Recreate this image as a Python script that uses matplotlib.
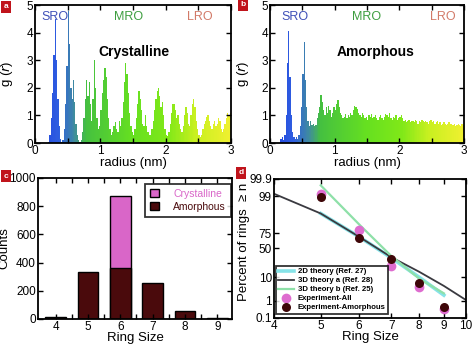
import numpy as np
import matplotlib
matplotlib.use("Agg")
import matplotlib.pyplot as plt
from matplotlib.colors import LinearSegmentedColormap
from matplotlib.ticker import NullLocator
from statistics import NormalDist

plt.rcParams["font.family"] = ["Liberation Sans", "DejaVu Sans"]

# g(r) histograms, 0.02 nm bins from 0 to 3 nm
bin_width = 0.02
g_crystalline = [
    0, 0, 0, 0, 0, 0, 0, 0, 0, 0,
    0.05, 0.3, 0.9, 1.8, 3.2, 4.5, 3.0, 1.6, 0.6, 0.15,
    0.02, 0.1, 0.5, 1.4, 2.8, 4.8, 3.6, 2.0, 1.6, 2.3,
    1.5, 0.7, 0.3, 0.1, 0.05, 0.1, 0.4, 0.9, 1.6, 2.3,
    1.7, 2.2, 1.4, 0.8, 1.6, 3.0, 2.0, 0.9, 0.5, 0.6,
    1.2, 1.8, 2.3, 2.7, 2.4, 1.6, 0.9, 0.5, 0.3, 0.4,
    0.6, 0.75, 0.5, 0.4, 0.8, 0.6, 0.9, 1.5, 2.2, 2.9,
    2.5, 1.8, 1.1, 0.6, 0.4, 0.3, 0.5, 0.9, 1.4, 1.9,
    1.6, 1.2, 0.7, 0.6, 1.0, 0.6, 0.4, 0.3, 0.3, 0.5,
    0.8, 1.2, 1.6, 1.9, 2.0, 1.7, 1.3, 1.5, 1.0, 0.5,
    0.3, 0.25, 0.4, 0.7, 1.1, 1.4, 1.4, 1.2, 0.9, 1.0,
    0.7, 0.5, 0.4, 0.6, 1.0, 1.3, 1.1, 0.7, 0.6, 1.0,
    1.4, 1.6, 1.3, 0.8, 0.5, 0.3, 0.2, 0.3, 0.5, 0.7,
    0.8, 0.95, 1.0, 0.8, 0.6, 0.5, 0.7, 0.8, 0.6, 0.7,
    0.9, 0.8, 0.5, 0.4, 0.5, 0.7, 0.9, 1.1, 1.0, 1.1,
]
g_amorphous = [
    0, 0, 0, 0, 0, 0, 0, 0, 0.15, 0.2,
    0.1, 0.3, 1.0, 2.9, 4.05, 2.4, 1.0, 0.4, 0.2, 0.15,
    0.2, 0.15, 0.3, 0.6, 1.3, 2.5, 3.65, 2.3, 1.3, 0.8,
    0.6, 0.8, 0.65, 0.7, 0.6, 0.65, 0.9, 1.1, 1.3, 1.75,
    1.5, 1.2, 1.0, 1.3, 1.1, 1.35, 1.2, 0.95, 1.1, 1.3,
    1.2, 1.4, 1.55, 1.3, 1.1, 1.0, 0.9, 0.95, 1.05, 0.9,
    1.0, 0.95, 1.1, 1.0, 1.2, 1.35, 1.3, 1.25, 1.1, 1.0,
    0.95, 1.1, 1.0, 0.9, 0.95, 0.85, 1.0, 0.95, 1.05, 0.9,
    0.95, 1.0, 0.9, 0.85, 0.95, 1.0, 0.9, 0.85, 0.95, 1.05,
    1.0, 0.95, 1.1, 0.9, 0.85, 0.95, 0.9, 1.0, 0.85, 0.9,
    0.95, 1.0, 0.9, 0.8, 0.85, 0.75, 0.8, 0.85, 0.75, 0.8,
    0.8, 0.75, 0.85, 0.8, 0.7, 0.8, 0.75, 0.85, 0.8, 0.75,
    0.8, 0.75, 0.7, 0.8, 0.85, 0.75, 0.8, 0.7, 0.75, 0.8,
    0.7, 0.75, 0.65, 0.7, 0.75, 0.7, 0.65, 0.7, 0.75, 0.7,
    0.7, 0.65, 0.7, 0.6, 0.65, 0.7, 0.65, 0.6, 0.7, 0.65,
]

# ring statistics
ring_sizes = [4, 5, 6, 7, 8, 9]
counts_crystalline = [0, 0, 875, 0, 0, 0]
counts_amorphous = [12, 336, 358, 252, 59, 5]

# percent of rings >= n
theory_n = [4, 5, 6, 7, 8, 9, 10]
theory_2d = [None, 94.0, 70.0, 34.0, 10.0, 1.9, None]
theory_3d_a = [99.25, 94.0, 70.0, 35.0, 15.0, 4.8, 1.1]
theory_3d_b = [None, 99.75, 86.0, 37.0, 9.0, 2.3, None]
exp_n = [5, 6, 7, 8, 9]
exp_all = [99.27, 79.0, 21.5, 4.2, 0.35]
exp_amorphous = [98.9, 67.5, 31.5, 6.4, 0.47]

gr_cmap = LinearSegmentedColormap.from_list("gr", [
    (0.0, "#2040e0"), (0.12, "#2f5fe0"), (0.2, "#3f8aa0"), (0.26, "#45c040"),
    (0.5, "#66e020"), (0.68, "#80e818"), (0.82, "#c8f020"), (1.0, "#f0f030")])

_nd = NormalDist()


def probit(p):
    p = np.clip(np.asarray(p, dtype=float) / 100.0, 1e-9, 1 - 1e-9)
    return np.vectorize(_nd.inv_cdf, otypes=[float])(p)


def probit_inv(z):
    return np.vectorize(_nd.cdf, otypes=[float])(np.asarray(z, dtype=float)) * 100.0


def style_ticks(ax):
    ax.tick_params(direction="in", top=True, right=True, labelsize=8.5,
                   length=3.5, width=1, which="both", pad=1.5)
    for s in ax.spines.values():
        s.set_linewidth(1.3)


def draw_gr(ax, g, title, title_x, region_x):
    g = np.asarray(g)
    r = (np.arange(len(g)) + 0.5) * bin_width
    ax.bar(r, g, width=bin_width, color=gr_cmap(r / 3.0), linewidth=0)
    ax.set_xlim(0, 3)
    ax.set_ylim(0, 5)
    ax.set_xticks([0, 1, 2, 3])
    ax.set_xticks([0.5, 1.5, 2.5], minor=True)
    ax.set_yticks([0, 1, 2, 3, 4, 5])
    style_ticks(ax)
    ax.set_xlabel("radius (nm)", fontsize=9.5)
    ax.xaxis.set_label_coords(0.5, -0.1)
    ax.set_ylabel("g ($\\it{r}$)", fontsize=9.5)
    ax.yaxis.set_label_coords(-0.1, 0.5)
    for txt, x, c in zip(["SRO", "MRO", "LRO"], region_x, ["#3f50b8", "#3e9e40", "#d27a68"]):
        ax.text(x, 4.58, txt, color=c, fontsize=9, ha="center", va="center")
    ax.text(title_x, 3.3, title, fontsize=10, fontweight="bold", ha="center", va="center")


fig = plt.figure(figsize=(4.74, 3.45), dpi=100)

ax_a = fig.add_axes([0.0738, 0.5855, 0.4135, 0.4])
draw_gr(ax_a, g_crystalline, "Crystalline", 1.52, [0.3, 1.44, 2.53])

ax_b = fig.add_axes([0.5696, 0.5855, 0.4093, 0.4])
draw_gr(ax_b, g_amorphous, "Amorphous", 1.63, [0.38, 1.49, 2.68])

# ring size histogram
ax_c = fig.add_axes([0.0802, 0.0755, 0.4093, 0.4087])
ax_c.bar(ring_sizes, counts_crystalline, width=0.64, color="#d966c8",
         edgecolor="black", linewidth=1, label="Crystalline")
ax_c.bar(ring_sizes, counts_amorphous, width=0.64, color="#4a0a0c",
         edgecolor="black", linewidth=1, label="Amorphous")
ax_c.set_xlim(3.46, 9.45)
ax_c.set_ylim(0, 1000)
ax_c.set_xticks(ring_sizes)
ax_c.set_xticks([4.5, 5.5, 6.5, 7.5, 8.5], minor=True)
ax_c.set_yticks(range(0, 1001, 200))
style_ticks(ax_c)
ax_c.set_xlabel("Ring Size", fontsize=9.5)
ax_c.xaxis.set_label_coords(0.5, -0.09)
ax_c.set_ylabel("Counts", fontsize=9.5)
ax_c.yaxis.set_label_coords(-0.14, 0.5)
leg_c = ax_c.legend(loc="upper right", bbox_to_anchor=(0.995, 0.96), fontsize=7.5,
                    handlelength=0.8, handleheight=0.8, borderpad=0.5,
                    labelspacing=0.3, handletextpad=1.4, fancybox=False,
                    edgecolor="black", borderaxespad=0)
leg_c.get_frame().set_linewidth(1.3)
leg_c.get_texts()[0].set_color("#d966c8")
leg_c.get_texts()[1].set_color("#4a0a0c")

# cumulative ring fractions on a probability scale
ax_d = fig.add_axes([0.578, 0.0783, 0.405, 0.403])
ax_d.set_xscale("log")
ax_d.set_yscale("function", functions=(probit, probit_inv))


def series(xs, ys):
    pts = [(x, y) for x, y in zip(xs, ys) if y is not None]
    return [p[0] for p in pts], [p[1] for p in pts]


ax_d.plot(*series(theory_n, theory_2d), color="#86e3e8", lw=2.6, label="2D theory (Ref. 27)")
ax_d.plot(*series(theory_n, theory_3d_a), color="#3a3a40", lw=1.3, label="3D theory a (Ref. 28)")
ax_d.plot(*series(theory_n, theory_3d_b), color="#8ee0a8", lw=1.6, label="3D theory b (Ref. 25)")
ax_d.plot(exp_n, exp_all, "o", color="#de6ccf", ms=7, mec="none", label="Experiment-All")
ax_d.plot(exp_n, exp_amorphous, "o", color="#3e0608", ms=6.5, mec="none",
          label="Experiment-Amorphous")
ax_d.set_xlim(4, 10)
ax_d.set_ylim(0.1, 99.9)
ax_d.set_xticks(range(4, 11))
ax_d.set_xticklabels([str(v) for v in range(4, 11)])
ax_d.xaxis.set_minor_locator(NullLocator())
yt = [0.1, 1, 10, 50, 75, 99, 99.9]
ax_d.set_yticks(yt)
ax_d.set_yticklabels(["0.1", "1", "10", "50", "75", "99", "99.9"])
ax_d.yaxis.set_minor_locator(NullLocator())
style_ticks(ax_d)
ax_d.set_xlabel("Ring Size", fontsize=9.5)
ax_d.xaxis.set_label_coords(0.5, -0.095)
ax_d.set_ylabel("Percent of rings  \u2265 n", fontsize=9.5)
ax_d.yaxis.set_label_coords(-0.125, 0.55)
leg_d = ax_d.legend(loc="lower left", bbox_to_anchor=(0.01, 0.03),
                    prop={"size": 5.6, "weight": "bold"}, handlelength=2.0,
                    borderpad=0.3, labelspacing=0.2, handletextpad=0.5,
                    fancybox=False, edgecolor="black", borderaxespad=0)
leg_d.get_frame().set_linewidth(1.3)

# panel letters
for x, y, letter in [(6, 7, "a"), (243, 5, "b"), (6, 176, "c"), (241, 173, "d")]:
    fig.text(x / 474, 1 - y / 345, letter, color="white", fontsize=6, fontweight="bold",
             ha="center", va="center",
             bbox=dict(boxstyle="square,pad=0.3", fc="#c0141c", ec="none"))

fig.savefig("out.png", dpi=100)
